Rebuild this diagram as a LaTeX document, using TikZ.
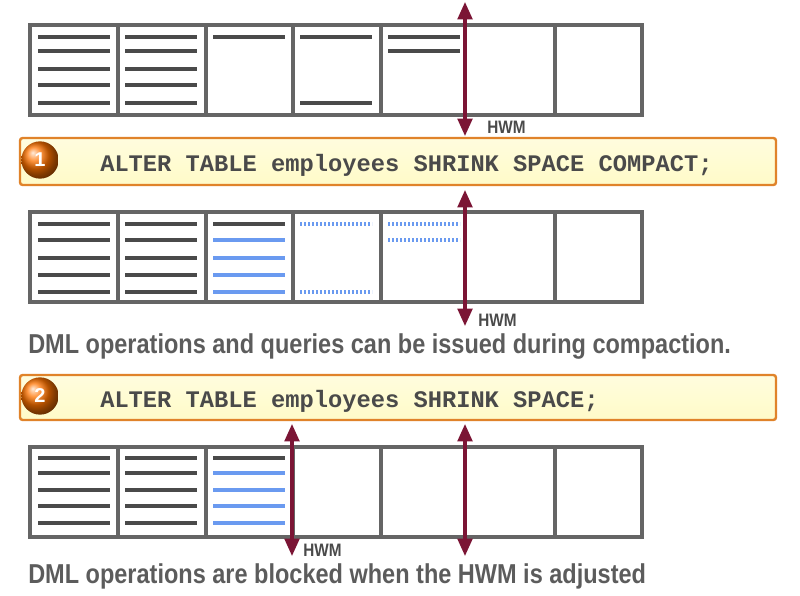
\documentclass[tikz,border=0pt]{standalone}
\usepackage{fontspec}
\setmainfont{Liberation Sans}
\newfontfamily\codefont{Liberation Mono}
\usetikzlibrary{arrows.meta}
\definecolor{hwm}{HTML}{7B1535}
\definecolor{ink}{HTML}{4A4A4A}
\definecolor{blu}{HTML}{6A9AF0}
\definecolor{ban}{HTML}{FFFBC8}
\definecolor{bor}{HTML}{E0832A}
\tikzset{
 row/.style={draw=ink!85,line width=2.3pt},
 dk/.style={draw=ink,line width=3.2pt},
 bl/.style={draw=blu,line width=3.2pt},
 dt/.style={draw=blu,line width=2.6pt,dash pattern=on 1.4pt off 1.6pt},
 hw/.style={draw=hwm,line width=2.3pt,{Triangle[width=11pt,length=13pt]}-{Triangle[width=11pt,length=13pt]}},
 banner/.style={draw=bor,line width=1.8pt,top color=ban!60,bottom color=ban,rounded corners=2pt},
 num/.style={circle,minimum size=28pt,inner sep=0pt,shading=ball,ball color=orange!90!red,text=white,font=\bfseries\fontsize{15}{15}\selectfont},
 code/.style={anchor=west,text=ink,font=\codefont\bfseries\fontsize{17.8}{18}\selectfont,inner sep=0pt},
 captxt/.style={anchor=west,text=ink!90,font=\bfseries\fontsize{20.5}{22}\selectfont,inner sep=0pt},
 lab/.style={anchor=west,text=ink,font=\bfseries\fontsize{13.5}{14}\selectfont,inner sep=0pt}
}
\newcommand\myrow[1]{%
 \draw[row] (30,#1) rectangle (642,#1+90);
 \foreach \x in {118,206,293,381,555} \draw[row] (\x,#1) -- (\x,#1+90);}
\begin{document}
\begin{tikzpicture}[x=0.75pt,y=-0.75pt]
\useasboundingbox (0,0) rectangle (800,596);
% row 1
\myrow{25}
\foreach \y in {37,51,69,85,103} {\draw[dk] (38,\y)--(110,\y); \draw[dk] (125,\y)--(197,\y);}
\draw[dk] (213,37)--(285,37);
\draw[dk] (300,37)--(372,37); \draw[dk] (300,103)--(372,103);
\draw[dk] (388,37)--(460,37); \draw[dk] (388,51)--(460,51);
\coordinate (a1t) at (465,2); \coordinate (a1b) at (465,136);
\draw[hw] (a1t) -- (a1b);
\node[lab] (h1) at (487,127) {\scalebox{0.85}[1]{HWM}};
% banner 1
\draw[banner] (20,138) rectangle (776,185);
\node[num] (n1) at (40,160) {1};
\node[code] (c1) at (100,165) {ALTER TABLE employees SHRINK SPACE COMPACT;};
% row 2
\myrow{212}
\foreach \y in {224,240,258,275,292} {\draw[dk] (38,\y)--(110,\y); \draw[dk] (125,\y)--(197,\y);}
\draw[dk] (213,224)--(285,224);
\foreach \y in {240,258,275,292} \draw[bl] (213,\y)--(285,\y);
\draw[dt] (300,224)--(372,224); \draw[dt] (300,292)--(372,292);
\draw[dt] (388,224)--(460,224); \draw[dt] (388,240)--(460,240);
\coordinate (a2t) at (465,190); \coordinate (a2b) at (465,326);
\draw[hw] (a2t) -- (a2b);
\node[lab] (h2) at (478,320) {\scalebox{0.85}[1]{HWM}};
\node[captxt] (t1) at (28,346) {\scalebox{0.86}[1]{DML operations and queries can be issued during compaction.}};
% banner 2
\draw[banner] (20,375) rectangle (776,420);
\node[num] (n2) at (40,396) {2};
\node[code] (c2) at (100,401) {ALTER TABLE employees SHRINK SPACE;};
% row 3
\myrow{447}
\foreach \y in {458,473,490,506,523} {\draw[dk] (38,\y)--(110,\y); \draw[dk] (125,\y)--(197,\y);}
\draw[dk] (213,458)--(285,458);
\foreach \y in {473,490,506,523} \draw[bl] (213,\y)--(285,\y);
\coordinate (a3t) at (292,424); \coordinate (a3b) at (292,556);
\coordinate (a4t) at (465,424); \coordinate (a4b) at (465,556);
\draw[hw] (a3t) -- (a3b);
\draw[hw] (a4t) -- (a4b);
\node[lab] (h3) at (303,550) {\scalebox{0.85}[1]{HWM}};
\node[captxt] (t2) at (28,576) {\scalebox{0.86}[1]{DML operations are blocked when the HWM is adjusted}};
\end{tikzpicture}
\end{document}
